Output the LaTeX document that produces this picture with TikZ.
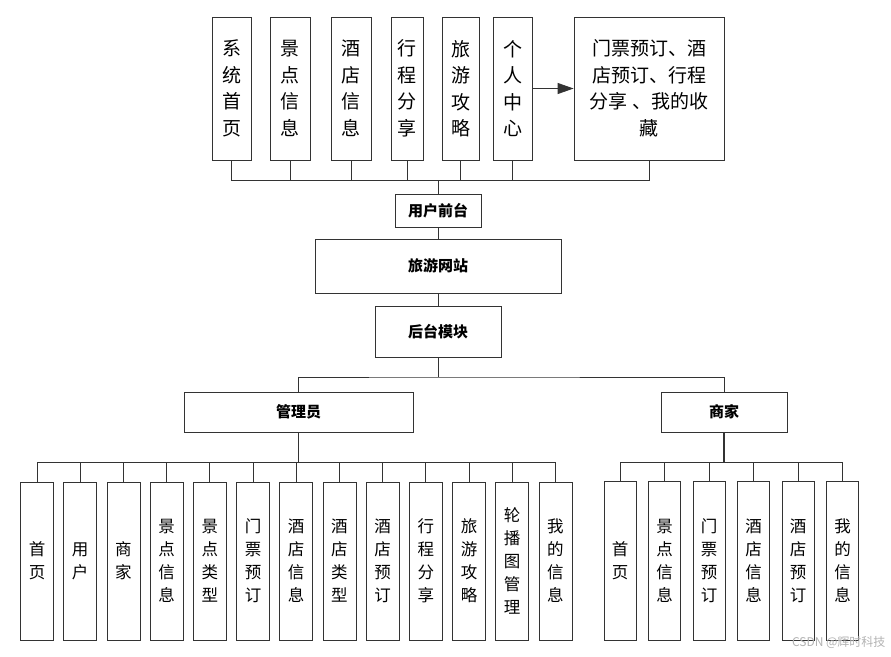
\documentclass[tikz,border=0pt]{standalone}
\usepackage{fontspec}
\setmainfont{Noto Sans CJK SC}
\usetikzlibrary{arrows.meta}
\begin{document}
\begin{tikzpicture}[x=1pt,y=-1pt,
  bx/.style={draw=black!80,line width=0.8pt,fill=white,inner sep=0pt,align=center},
  ln/.style={draw=black!80,line width=0.8pt},
  mid/.style={bx,font=\fontsize{15}{18}\selectfont\bfseries}]
\useasboundingbox (0,0) rectangle (891,656);
\newcommand{\tbox}[5]{\node[bx,minimum width=#3,minimum height=#4,font=\fontsize{19}{26.5}\selectfont] (#1) at (#2) {#5};}
% top
\tbox{t1}{231.5,88.5}{39pt}{143pt}{系\\统\\首\\页}
\tbox{t2}{290,88.5}{40pt}{143pt}{景\\点\\信\\息}
\tbox{t3}{351,88.5}{40pt}{143pt}{酒\\店\\信\\息}
\tbox{t4}{407,88.5}{32pt}{143pt}{行\\程\\分\\享}
\tbox{t5}{460.5,88.5}{37pt}{143pt}{旅\\游\\攻\\略}
\tbox{t6}{512.5,88.5}{39pt}{143pt}{个\\人\\中\\心}
\node[bx,minimum width=150pt,minimum height=143pt,font=\fontsize{19}{26.5}\selectfont] (t7) at (649,88.5) {门票预订、酒\\店预订、行程\\分享 、我的收\\藏};
\draw[ln,-{Triangle[length=16pt,width=11pt]}] (t6.east) -- (t7.west);
\node[mid,minimum width=86pt,minimum height=33pt] (u) at (438,210.5) {用户前台};
\node[mid,minimum width=246pt,minimum height=54pt] (w) at (438,266) {旅游网站};
\node[mid,minimum width=126pt,minimum height=51pt] (h) at (438,331.5) {后台模块};
\node[mid,minimum width=229pt,minimum height=40pt] (a) at (298.5,412) {管理员};
\node[mid,minimum width=126pt,minimum height=40pt] (m) at (724,412) {商家};
\foreach \n in {t1,t2,t3,t4,t5,t6,t7} \draw[ln] (\n.south) |- (438,180);
\draw[ln] (438,180) -- (u.north);
\draw[ln] (u.south) -- (w.north);
\draw[ln] (w.south) -- (h.north);
\draw[ln] (h.south) -- (438,377);
\draw[ln] (a.north) |- (438,377) -| (m.north);
% admin children
\foreach [count=\i] \t in {{首\\页},{用\\户},{商\\家},{景\\点\\信\\息},{景\\点\\类\\型},{门\\票\\预\\订},{酒\\店\\信\\息},{酒\\店\\类\\型},{酒\\店\\预\\订},{行\\程\\分\\享},{旅\\游\\攻\\略},{轮\\播\\图\\管\\理},{我\\的\\信\\息}}{
  \node[bx,minimum width=33pt,minimum height=158pt,font=\fontsize{16.5}{23}\selectfont] (a\i) at ({37+43.2*(\i-1)},561) {\t};
  \draw[ln] (a\i.north) |- (298.5,462);
}
\draw[ln,line width=1.3pt] (a.south) -- (298.5,462);
\foreach [count=\i] \t in {{首\\页},{景\\点\\信\\息},{门\\票\\预\\订},{酒\\店\\信\\息},{酒\\店\\预\\订},{我\\的\\信\\息}}{
  \node[bx,minimum width=32pt,minimum height=159pt,font=\fontsize{16.5}{23}\selectfont] (m\i) at ({620+44.5*(\i-1)},560.5) {\t};
  \draw[ln] (m\i.north) |- (724,462);
}
\draw[ln,line width=1.3pt] (m.south) -- (724,462);
\node[text=black!30,font=\fontsize{12}{14}\selectfont,anchor=south east] (wm) at (889,652) {CSDN @辉时科技};
\end{tikzpicture}
\end{document}
